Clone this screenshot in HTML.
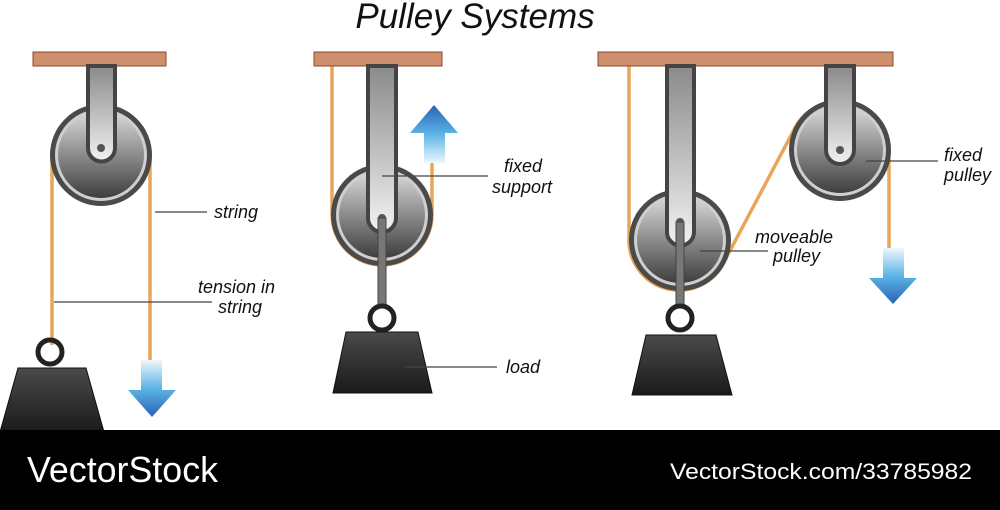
<!DOCTYPE html>
<html><head><meta charset="utf-8"><style>
html,body{margin:0;padding:0;background:#fff;width:1000px;height:510px;overflow:hidden}
svg{display:block}
.lbl{font-family:"Liberation Sans",sans-serif;font-style:italic;font-size:18px;fill:#111}
</style></head><body>
<svg width="1000" height="510" viewBox="0 0 1000 510" xmlns="http://www.w3.org/2000/svg">
<defs>
<linearGradient id="wh" x1="0" y1="0" x2="0" y2="1"><stop offset="0" stop-color="#d9d9d9"/><stop offset="1" stop-color="#3e3e3e"/></linearGradient>
<linearGradient id="br" x1="0" y1="0" x2="0" y2="1"><stop offset="0" stop-color="#8a8a8a"/><stop offset="1" stop-color="#f2f2f2"/></linearGradient>
<linearGradient id="ar" x1="0" y1="0" x2="0" y2="1"><stop offset="0" stop-color="#eef7fc"/><stop offset="0.5" stop-color="#5bb4e6"/><stop offset="1" stop-color="#2a63b5"/></linearGradient>
<linearGradient id="aru" x1="0" y1="1" x2="0" y2="0"><stop offset="0" stop-color="#eef7fc"/><stop offset="0.5" stop-color="#5bb4e6"/><stop offset="1" stop-color="#2a63b5"/></linearGradient>
<linearGradient id="wt" x1="0" y1="0" x2="0" y2="1"><stop offset="0" stop-color="#4a4a4a"/><stop offset="1" stop-color="#1a1a1a"/></linearGradient>
<g id="wheel">
<circle r="51" fill="#4a4a4a"/><circle r="46" fill="#cfcfcf"/><circle r="43" fill="url(#wh)"/>
</g>
</defs>
<g stroke="#e9a55a" stroke-width="3.5" fill="none">
<path d="M52 345 V155 A49 49 0 0 1 150 155 V362"/>
<path d="M332 66 V215 A50 50 0 0 0 432 215 V163"/>
<path d="M629 66 V240 A50 50 0 0 0 724 262 L796 126 A50 50 0 0 1 889 150 V248"/>
</g>
<rect x="33" y="52" width="133" height="14" fill="#d08f6c" stroke="#8a4a2a"/>
<rect x="314" y="52" width="128" height="14" fill="#d08f6c" stroke="#8a4a2a"/>
<rect x="598" y="52" width="295" height="14" fill="#d08f6c" stroke="#8a4a2a"/>
<use href="#wheel" x="101" y="155"/>
<use href="#wheel" x="382" y="215"/>
<use href="#wheel" x="680" y="240"/>
<use href="#wheel" x="840" y="150"/>
<g stroke="#444" stroke-width="4" fill="url(#br)">
<path d="M88 66 H115 V148 A13.5 13.5 0 0 1 88 148 Z"/>
<path d="M368 66 H396 V218 A14 14 0 0 1 368 218 Z"/>
<path d="M667 66 H694 V232 A13.5 13.5 0 0 1 667 232 Z"/>
<path d="M826 66 H854 V150 A14 14 0 0 1 826 150 Z"/>
</g>
<g fill="#555"><circle cx="101" cy="148" r="4"/><circle cx="382" cy="218" r="4"/><circle cx="680" cy="222" r="4"/><circle cx="840" cy="150" r="4"/></g>
<rect x="378" y="218" width="8" height="88" fill="#777" stroke="#444"/>
<rect x="676" y="222" width="8" height="86" fill="#777" stroke="#444"/>
<g fill="none" stroke="#222" stroke-width="5"><circle cx="50" cy="352" r="12"/><circle cx="382" cy="318" r="12"/><circle cx="680" cy="318" r="12"/></g>
<polygon points="18,368 86,368 104,432 0,432" fill="url(#wt)" stroke="#111"/>
<polygon points="346,332 418,332 432,393 333,393" fill="url(#wt)" stroke="#111"/>
<polygon points="646,335 716,335 732,395 632,395" fill="url(#wt)" stroke="#111"/>
<polygon points="141,360 162,360 162,390 176,390 152,417 128,390 141,390" fill="url(#ar)"/>
<polygon points="424,163 445,163 445,133 458,133 434,105 410,133 424,133" fill="url(#aru)"/>
<polygon points="883,248 904,248 904,278 917,278 893,304 869,278 883,278" fill="url(#ar)"/>
<g stroke="#444" stroke-width="1.2">
<line x1="155" y1="212" x2="207" y2="212"/>
<line x1="54" y1="302" x2="212" y2="302"/>
<line x1="382" y1="176" x2="488" y2="176"/>
<line x1="405" y1="367" x2="497" y2="367"/>
<line x1="700" y1="251" x2="768" y2="251"/>
<line x1="866" y1="161" x2="938" y2="161"/>
</g>
<text x="475" y="28" text-anchor="middle" class="lbl" style="font-size:35px">Pulley Systems</text>
<text x="214" y="218" class="lbl">string</text>
<text x="198" y="293" class="lbl">tension in</text>
<text x="218" y="313" class="lbl">string</text>
<text x="504" y="172" class="lbl">fixed</text>
<text x="492" y="193" class="lbl">support</text>
<text x="506" y="373" class="lbl">load</text>
<text x="755" y="243" class="lbl">moveable</text>
<text x="773" y="262" class="lbl">pulley</text>
<text x="944" y="161" class="lbl">fixed</text>
<text x="944" y="181" class="lbl">pulley</text>
<rect x="0" y="430" width="1000" height="80" fill="#000"/>
<text x="27" y="482" fill="#fff" font-family="Liberation Sans,sans-serif" font-size="36" textLength="191" lengthAdjust="spacingAndGlyphs">VectorStock</text>
<text x="670" y="479" fill="#fff" font-family="Liberation Sans,sans-serif" font-size="22" textLength="302" lengthAdjust="spacingAndGlyphs">VectorStock.com/33785982</text>
</svg>
</body></html>
